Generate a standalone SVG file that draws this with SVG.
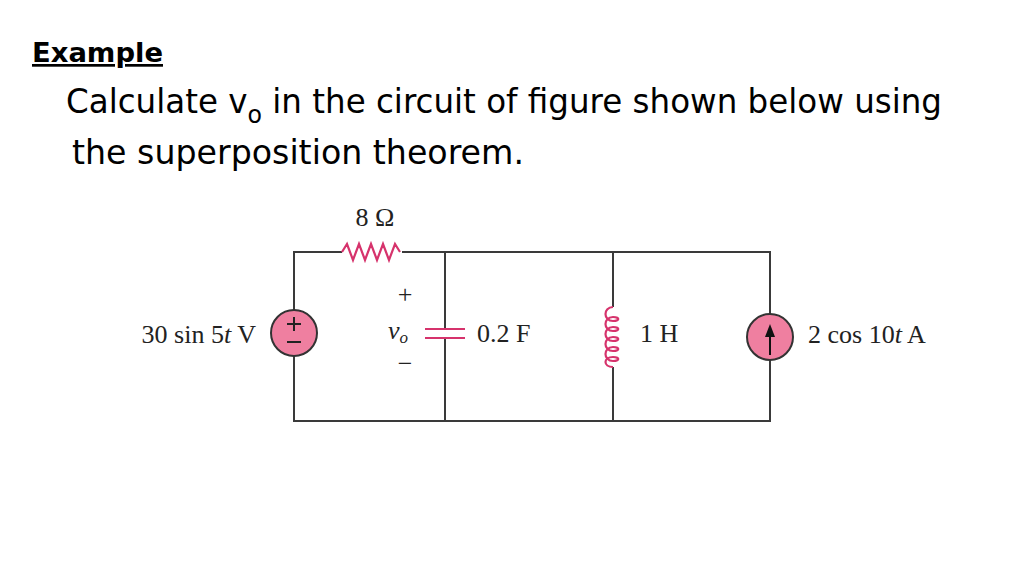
<svg xmlns="http://www.w3.org/2000/svg" width="1024" height="574" viewBox="0 0 1024 574">
<style>
.w{stroke:#3a3a3a;stroke-width:2;fill:none}
.p{stroke:#d6336c;stroke-width:2.2;fill:none}
.h{font-family:"DejaVu Sans",sans-serif;fill:#000}
.c{font-family:"Liberation Serif",serif;font-size:26px;fill:#222}
.src{fill:#ef7fa0;stroke:#333;stroke-width:2}
</style>
<rect width="1024" height="574" fill="#fff"/>
<g id="title">
<text class="h" x="32" y="62" font-size="27" font-weight="bold" text-decoration="underline" textLength="131" lengthAdjust="spacingAndGlyphs">Example</text>
<text class="h" x="66" y="113" font-size="33" textLength="876" lengthAdjust="spacingAndGlyphs">Calculate v<tspan font-size="24" dy="10">o</tspan><tspan dy="-10"> in the circuit of figure shown below using</tspan></text>
<text class="h" x="72" y="164" font-size="33" textLength="452" lengthAdjust="spacingAndGlyphs">the superposition theorem.</text>
</g>
<g id="wires">
<path class="w" d="M294 310V252H342M402 252H770V314M770 360V421H294V356"/>
<path class="w" d="M445 252V329M445 338V421"/>
<path class="w" d="M613 252V307M613 367V421"/>
</g>
<g id="resistor">
<path class="p" d="M342 252l5-8 6 16 6-16 6 16 6-16 6 16 6-16 6 16 6-16 5 8"/>
<text class="c" x="375" y="226" text-anchor="middle">8 Ω</text>
</g>
<g id="vsource">
<circle class="src" cx="294" cy="333" r="23"/>
<path stroke="#222" stroke-width="2" d="M287 324h14M294 317v14M287 342h14"/>
<text class="c" x="256" y="343" text-anchor="end">30 sin 5<tspan font-style="italic">t</tspan> V</text>
</g>
<g id="capacitor">
<path class="p" d="M425 329H465M425 338H465"/>
<text class="c" x="405" y="303" text-anchor="middle">+</text>
<text class="c" x="398" y="339" text-anchor="middle" font-style="italic">v<tspan font-size="17" dy="4">o</tspan></text>
<text class="c" x="405" y="372" text-anchor="middle">−</text>
<text class="c" x="477" y="342">0.2 F</text>
</g>
<g id="inductor">
<path class="p" d="M613 307c-10 0-10 14 0 14c7 0 7-4 0-4c-10 0-10 14 0 14c7 0 7-4 0-4c-10 0-10 14 0 14c7 0 7-4 0-4c-10 0-10 14 0 14c7 0 7-4 0-4c-10 0-10 14 0 14c7 0 7-4 0-4c-10 0-10 10 0 10"/>
<text class="c" x="640" y="342">1 H</text>
</g>
<g id="isource">
<circle class="src" cx="770" cy="337" r="23"/>
<path stroke="#111" stroke-width="2" d="M770 355V332"/>
<path fill="#111" d="M770 324l-5 13h10z"/>
<text class="c" x="808" y="343">2 cos 10<tspan font-style="italic">t</tspan> A</text>
</g>
</svg>
